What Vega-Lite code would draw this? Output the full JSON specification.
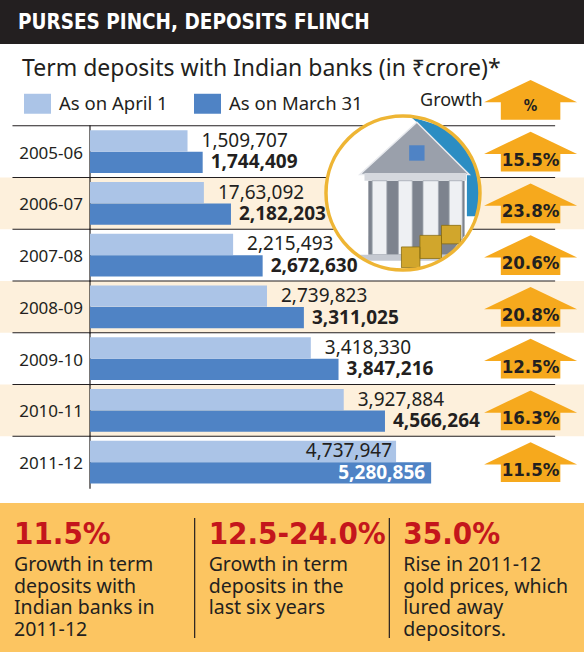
{
  "$schema": "https://vega.github.io/schema/vega-lite/v6.json",
  "padding": 0,
  "spacing": 14,
  "background": "white",
  "config": {"view": {"stroke": null}, "font": "Noto Sans"},
  "datasets": {
    "deposits": [
      {"year": "2005-06", "series": "As on April 1", "value": 1509707, "label": "1,509,707"},
      {"year": "2005-06", "series": "As on March 31", "value": 1744409, "label": "1,744,409"},
      {"year": "2006-07", "series": "As on April 1", "value": 1763092, "label": "17,63,092"},
      {"year": "2006-07", "series": "As on March 31", "value": 2182203, "label": "2,182,203"},
      {"year": "2007-08", "series": "As on April 1", "value": 2215493, "label": "2,215,493"},
      {"year": "2007-08", "series": "As on March 31", "value": 2672630, "label": "2,672,630"},
      {"year": "2008-09", "series": "As on April 1", "value": 2739823, "label": "2,739,823"},
      {"year": "2008-09", "series": "As on March 31", "value": 3311025, "label": "3,311,025"},
      {"year": "2009-10", "series": "As on April 1", "value": 3418330, "label": "3,418,330"},
      {"year": "2009-10", "series": "As on March 31", "value": 3847216, "label": "3,847,216"},
      {"year": "2010-11", "series": "As on April 1", "value": 3927884, "label": "3,927,884"},
      {"year": "2010-11", "series": "As on March 31", "value": 4566264, "label": "4,566,264"},
      {"year": "2011-12", "series": "As on April 1", "value": 4737947, "label": "4,737,947"},
      {"year": "2011-12", "series": "As on March 31", "value": 5280856, "label": "5,280,856"}
    ],
    "growth": [
      {"year": "2005-06", "growth": 15.5, "label": "15.5%"},
      {"year": "2006-07", "growth": 23.8, "label": "23.8%"},
      {"year": "2007-08", "growth": 20.6, "label": "20.6%"},
      {"year": "2008-09", "growth": 20.8, "label": "20.8%"},
      {"year": "2009-10", "growth": 12.5, "label": "12.5%"},
      {"year": "2010-11", "growth": 16.3, "label": "16.3%"},
      {"year": "2011-12", "growth": 11.5, "label": "11.5%"}
    ],
    "header": [{"pct": "%", "caption": "Growth"}],
    "decor": [{"item": "bank"}],
    "stats": [
      {"figure": "11.5%", "desc": ["Growth in term", "deposits with", "Indian banks in", "2011-12"]},
      {"figure": "12.5-24.0%", "desc": ["Growth in term", "deposits in the", "last six years"]},
      {"figure": "35.0%", "desc": ["Rise in 2011-12", "gold prices, which", "lured away", "depositors."]}
    ]
  },
  "vconcat": [
    {
      "width": 584,
      "height": 44,
      "view": {"fill": "#231f20", "stroke": null},
      "title": {"text": "PURSES PINCH, DEPOSITS FLINCH", "anchor": "start", "dx": 18, "offset": -33, "color": "#ffffff", "font": "DejaVu Sans Condensed, Liberation Sans, sans-serif", "fontWeight": "bold", "fontSize": 20.5},
      "data": {"name": "header"},
      "mark": {"type": "text", "text": "", "opacity": 0},
      "encoding": {}
    },
    {
      "width": 584,
      "height": 414,
      "title": {"text": "Term deposits with Indian banks (in ₹crore)*", "anchor": "start", "dx": 22, "offset": -7, "font": "Noto Sans", "fontSize": 23, "fontWeight": "normal", "color": "#231f20"},
      "layer": [
        {
          "data": {"name": "growth"},
          "transform": [{"filter": "indexof(['2006-07','2008-09','2010-11'], datum.year) >= 0"}],
          "mark": {"type": "rect", "color": "#fdf0dc"},
          "encoding": {
            "x": {"datum": -1393000, "type": "quantitative", "scale": {"domain": [-1393000, 7647000], "nice": false, "zero": false}, "axis": null},
            "x2": {"datum": 7647000},
            "y": {"field": "year", "type": "nominal", "scale": {"domain": ["hdr", "2005-06", "2006-07", "2007-08", "2008-09", "2009-10", "2010-11", "2011-12"], "paddingInner": 0, "paddingOuter": 0}, "axis": null}
          }
        },
        {
          "data": {"name": "growth"},
          "mark": {"type": "rule", "color": "#231f20", "strokeWidth": 1.2},
          "encoding": {
            "x": {"datum": -1200000, "type": "quantitative"},
            "x2": {"datum": 7200000},
            "y": {"field": "year", "type": "nominal", "bandPosition": 0}
          }
        },
        {
          "data": {"name": "growth"},
          "mark": {"type": "tick", "orient": "vertical", "size": 53, "thickness": 1.2, "color": "#231f20", "opacity": 1},
          "encoding": {
            "x": {"datum": 0, "type": "quantitative"},
            "y": {"field": "year", "type": "nominal"}
          }
        },
        {
          "data": {"name": "deposits"},
          "mark": {"type": "bar"},
          "encoding": {
            "x": {"field": "value", "type": "quantitative"},
            "y": {"field": "year", "type": "nominal"},
            "yOffset": {"field": "series", "type": "nominal", "sort": ["As on April 1", "As on March 31"], "scale": {"paddingInner": 0.023, "paddingOuter": 0.215}},
            "color": {
              "field": "series", "type": "nominal",
              "scale": {"domain": ["As on April 1", "As on March 31"], "range": ["#abc4e7", "#4f83c5"]},
              "legend": {"orient": "none", "legendX": 24, "legendY": 90, "direction": "horizontal", "title": null, "symbolType": "M-1,-0.74H1V0.74H-1Z", "symbolSize": 729, "symbolStrokeWidth": 0, "symbolOpacity": 1, "labelFont": "Noto Sans", "labelFontSize": 18.5, "labelColor": "#231f20", "labelOffset": 8, "columnPadding": 26, "padding": 0}
            }
          }
        },
        {
          "data": {"name": "deposits"},
          "transform": [{"filter": "datum.series === 'As on April 1' && datum.year !== '2011-12'"}],
          "mark": {"type": "text", "align": "left", "baseline": "middle", "dx": 14, "font": "Noto Sans", "fontSize": 19, "color": "#231f20"},
          "encoding": {
            "x": {"field": "value", "type": "quantitative"},
            "y": {"field": "year", "type": "nominal"},
            "yOffset": {"field": "series", "type": "nominal"},
            "text": {"field": "label"}
          }
        },
        {
          "data": {"name": "deposits"},
          "transform": [{"filter": "datum.series === 'As on March 31' && datum.year !== '2011-12'"}],
          "mark": {"type": "text", "align": "left", "baseline": "middle", "dx": 8, "font": "Noto Sans", "fontWeight": "bold", "fontSize": 19, "color": "#231f20"},
          "encoding": {
            "x": {"field": "value", "type": "quantitative"},
            "y": {"field": "year", "type": "nominal"},
            "yOffset": {"field": "series", "type": "nominal"},
            "text": {"field": "label"}
          }
        },
        {
          "data": {"name": "deposits"},
          "transform": [{"filter": "datum.series === 'As on April 1' && datum.year === '2011-12'"}],
          "mark": {"type": "text", "align": "right", "baseline": "middle", "dx": -4, "font": "Noto Sans", "fontSize": 19, "color": "#231f20"},
          "encoding": {
            "x": {"field": "value", "type": "quantitative"},
            "y": {"field": "year", "type": "nominal"},
            "yOffset": {"field": "series", "type": "nominal"},
            "text": {"field": "label"}
          }
        },
        {
          "data": {"name": "deposits"},
          "transform": [{"filter": "datum.series === 'As on March 31' && datum.year === '2011-12'"}],
          "mark": {"type": "text", "align": "right", "baseline": "middle", "dx": -6, "font": "Noto Sans", "fontWeight": "bold", "fontSize": 19, "color": "#ffffff"},
          "encoding": {
            "x": {"field": "value", "type": "quantitative"},
            "y": {"field": "year", "type": "nominal"},
            "yOffset": {"field": "series", "type": "nominal"},
            "text": {"field": "label"}
          }
        },
        {
          "data": {"name": "growth"},
          "mark": {"type": "text", "align": "right", "baseline": "middle", "dx": -7, "dy": 2, "font": "Noto Sans", "fontSize": 17, "color": "#231f20"},
          "encoding": {
            "x": {"datum": 0, "type": "quantitative"},
            "y": {"field": "year", "type": "nominal"},
            "text": {"field": "year"}
          }
        },
        {
          "data": {"name": "growth"},
          "mark": {"type": "point", "shape": "M0,-0.43L1,0.05L0.64,0.05L0.64,0.43L-0.64,0.43L-0.64,0.05L-1,0.05Z", "filled": true, "size": 8649, "color": "#f6a91d", "opacity": 1, "strokeWidth": 0},
          "encoding": {
            "x": {"datum": 6820000, "type": "quantitative"},
            "y": {"field": "year", "type": "nominal"}
          }
        },
        {
          "data": {"name": "growth"},
          "mark": {"type": "text", "align": "center", "baseline": "middle", "dy": 8, "font": "DejaVu Sans Condensed, Liberation Sans, sans-serif", "fontWeight": "bold", "fontSize": 18.5, "color": "#231f20"},
          "encoding": {
            "x": {"datum": 6820000, "type": "quantitative"},
            "y": {"field": "year", "type": "nominal"},
            "text": {"field": "label"}
          }
        },
        {
          "data": {"name": "header"},
          "mark": {"type": "point", "shape": "M0,-0.43L1,0.05L0.64,0.05L0.64,0.43L-0.64,0.43L-0.64,0.05L-1,0.05Z", "filled": true, "size": 8649, "color": "#f6a91d", "opacity": 1, "strokeWidth": 0},
          "encoding": {
            "x": {"datum": 6820000, "type": "quantitative"},
            "y": {"datum": "hdr", "type": "nominal"}
          }
        },
        {
          "data": {"name": "header"},
          "mark": {"type": "text", "align": "center", "baseline": "middle", "dy": 6, "font": "DejaVu Sans Condensed, Liberation Sans, sans-serif", "fontWeight": "bold", "fontSize": 15, "color": "#231f20"},
          "encoding": {
            "x": {"datum": 6820000, "type": "quantitative"},
            "y": {"datum": "hdr", "type": "nominal"},
            "text": {"field": "pct"}
          }
        },
        {
          "data": {"name": "header"},
          "mark": {"type": "text", "align": "right", "baseline": "middle", "dx": -48, "dy": 1, "font": "Noto Sans", "fontSize": 18, "color": "#231f20"},
          "encoding": {
            "x": {"datum": 6820000, "type": "quantitative"},
            "y": {"datum": "hdr", "type": "nominal"},
            "text": {"field": "caption"}
          }
        },
        {
          "data": {"name": "decor"},
          "mark": {"type": "point", "shape": "circle", "filled": true, "size": 23716, "color": "#ffffff", "opacity": 1, "strokeWidth": 0},
          "encoding": {
            "x": {"datum": 4845000, "type": "quantitative"},
            "y": {"datum": "2006-07", "type": "nominal", "bandPosition": 0.3}
          }
        },
        {
          "data": {"name": "decor"},
          "mark": {"type": "point", "shape": "M0.1,-0.99L0.5,-0.866L0.766,-0.643L0.94,-0.342L1,0L0.955,0.3L0.83,0.3L0.83,-0.26L0.18,-0.92Z", "filled": true, "size": 23716, "color": "#2b8dc3", "opacity": 1, "strokeWidth": 0},
          "encoding": {
            "x": {"datum": 4845000, "type": "quantitative"},
            "y": {"datum": "2006-07", "type": "nominal", "bandPosition": 0.3}
          }
        },
        {
          "data": {"name": "decor"},
          "mark": {"type": "point", "shape": "M-0.45,-0.16H0.8V0.55L0.6,0.8H-0.45Z", "filled": true, "size": 23716, "color": "#7d838e", "opacity": 1, "strokeWidth": 0},
          "encoding": {
            "x": {"datum": 4845000, "type": "quantitative"},
            "y": {"datum": "2006-07", "type": "nominal", "bandPosition": 0.3}
          }
        },
        {
          "data": {"name": "decor"},
          "mark": {"type": "point", "shape": "M0.18,-0.92L0.86,-0.24L-0.56,-0.24Z", "filled": true, "size": 23716, "color": "#9aa0ab", "stroke": "#e8eaee", "strokeWidth": 1.5, "opacity": 1},
          "encoding": {
            "x": {"datum": 4845000, "type": "quantitative"},
            "y": {"datum": "2006-07", "type": "nominal", "bandPosition": 0.3}
          }
        },
        {
          "data": {"name": "decor"},
          "mark": {"type": "point", "shape": "M0.08,-0.62H0.28V-0.42H0.08Z", "filled": true, "size": 23716, "color": "#4f83c5", "opacity": 1, "strokeWidth": 0},
          "encoding": {
            "x": {"datum": 4845000, "type": "quantitative"},
            "y": {"datum": "2006-07", "type": "nominal", "bandPosition": 0.3}
          }
        },
        {
          "data": {"name": "decor"},
          "mark": {"type": "point", "shape": "M-0.5,-0.26H0.82V-0.16H-0.5Z", "filled": true, "size": 23716, "color": "#d5d8de", "opacity": 1, "strokeWidth": 0},
          "encoding": {
            "x": {"datum": 4845000, "type": "quantitative"},
            "y": {"datum": "2006-07", "type": "nominal", "bandPosition": 0.3}
          }
        },
        {
          "data": {"name": "decor"},
          "mark": {"type": "point", "shape": "M-0.4,-0.16H-0.21V0.8H-0.4Z M-0.06,-0.16H0.12V0.8H-0.06Z M0.26,-0.16H0.46V0.8H0.26Z M0.6,-0.16H0.77V0.6H0.6Z", "filled": true, "size": 23716, "color": "#eef0f3", "stroke": "#a3a9b3", "strokeWidth": 0.8, "opacity": 1},
          "encoding": {
            "x": {"datum": 4845000, "type": "quantitative"},
            "y": {"datum": "2006-07", "type": "nominal", "bandPosition": 0.3}
          }
        },
        {
          "data": {"name": "decor"},
          "mark": {"type": "point", "shape": "M-0.6,0.8H0.6L0.47,0.88H-0.47Z", "filled": true, "size": 23716, "color": "#c5c9d1", "opacity": 1, "strokeWidth": 0},
          "encoding": {
            "x": {"datum": 4845000, "type": "quantitative"},
            "y": {"datum": "2006-07", "type": "nominal", "bandPosition": 0.3}
          }
        },
        {
          "data": {"name": "decor"},
          "mark": {"type": "point", "shape": "M0.22,0.55H0.5V0.85H0.22Z M0.5,0.42H0.75V0.66H0.5Z M-0.02,0.7H0.22V0.97H-0.02Z", "filled": true, "size": 23716, "color": "#d1a62c", "stroke": "#8a6d12", "strokeWidth": 0.8, "opacity": 1},
          "encoding": {
            "x": {"datum": 4845000, "type": "quantitative"},
            "y": {"datum": "2006-07", "type": "nominal", "bandPosition": 0.3}
          }
        },
        {
          "data": {"name": "decor"},
          "mark": {"type": "point", "shape": "circle", "filled": false, "size": 23716, "stroke": "#eeb534", "strokeWidth": 3.5, "opacity": 1},
          "encoding": {
            "x": {"datum": 4845000, "type": "quantitative"},
            "y": {"datum": "2006-07", "type": "nominal", "bandPosition": 0.3}
          }
        }
      ]
    },
    {
      "width": 584,
      "height": 150,
      "view": {"fill": "#fcc561", "stroke": null},
      "data": {"name": "stats"},
      "encoding": {
        "x": {"field": "figure", "type": "nominal", "sort": null, "axis": null, "bandPosition": 0, "scale": {"paddingInner": 0, "paddingOuter": 0}}
      },
      "layer": [
        {
          "mark": {"type": "text", "align": "left", "baseline": "alphabetic", "dx": 14, "dy": -34, "font": "DejaVu Sans Condensed, Liberation Sans, sans-serif", "fontWeight": "bold", "fontSize": 31, "color": "#c4161c"},
          "encoding": {"text": {"field": "figure"}}
        },
        {
          "mark": {"type": "text", "align": "left", "baseline": "top", "dx": 14, "dy": -22, "font": "Noto Sans", "fontSize": 19.5, "lineHeight": 21.5, "color": "#231f20"},
          "encoding": {"text": {"field": "desc"}}
        },
        {
          "transform": [{"filter": "datum.figure !== '11.5%'"}],
          "mark": {"type": "tick", "orient": "vertical", "size": 120, "thickness": 1.2, "color": "#231f20", "opacity": 1}
        }
      ]
    }
  ]
}
